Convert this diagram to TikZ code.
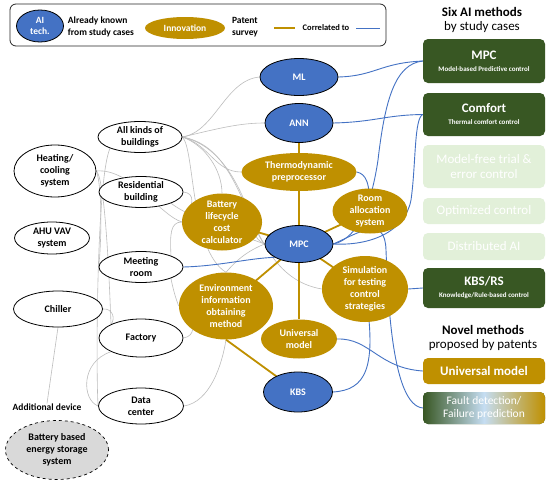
\documentclass[tikz,border=0pt]{standalone}
\usepackage{fontspec}
\setmainfont{Carlito}
\usetikzlibrary{shapes.geometric,backgrounds}
\definecolor{aiblue}{HTML}{4472C4}
\definecolor{gold}{HTML}{BF9000}
\definecolor{dkgreen}{HTML}{385723}
\definecolor{ltgreen}{HTML}{E2F0D9}
\definecolor{ltblue}{HTML}{C5DDF2}
\definecolor{lgray}{HTML}{BDBDBD}
\definecolor{batgray}{HTML}{D9D9D9}
\newcommand\fsz[2]{\fontsize{#1}{#2}\selectfont}
\begin{document}
\begin{tikzpicture}[x=1pt,y=-1pt,
  leftell/.style={ellipse, draw=black, line width=0.8pt, fill=white, inner xsep=0pt, inner ysep=-6pt, align=center, font=\bfseries\fsz{10}{12}},
  aiell/.style={ellipse, draw=black, line width=0.8pt, fill=aiblue, text=white, inner xsep=0pt, inner ysep=-6pt, align=center, font=\bfseries\fsz{10}{12}},
  inell/.style={ellipse, fill=gold, text=white, inner xsep=0pt, inner ysep=-6pt, align=center, font=\bfseries\fsz{10}{12}},
  gbox/.style={rounded corners=5pt, fill=dkgreen, text=white, minimum width=122pt, inner sep=0pt, align=center},
  lbox/.style={rounded corners=5pt, fill=ltgreen, text=white, minimum width=122pt, inner sep=0pt, align=center, font=\fsz{13}{15}},
  txt/.style={inner sep=0pt, align=center},
  gline/.style={draw=lgray, line width=0.6pt},
  bline/.style={draw=aiblue, line width=0.9pt},
  oline/.style={draw=gold, line width=1.8pt}]
\useasboundingbox (0,0) rectangle (550,485);

% ---------- legend ----------
\node[draw=black!85, line width=0.8pt, rounded corners=6pt, minimum width=376pt, minimum height=42pt, inner sep=0pt] (legend) at (198,25) {};
\node[aiell, minimum width=47pt, minimum height=32pt, font=\bfseries\fsz{9.5}{11.5}] (legai) at (40,26) {AI\\tech.};
\node[txt, align=left, font=\bfseries\fsz{9.5}{12}] (legk) at (101,27) {Already known\\from study cases};
\node[inell, minimum width=80pt, minimum height=22pt, font=\bfseries\fsz{9.5}{11}] (legin) at (185,28) {Innovation};
\node[txt, align=left, font=\bfseries\fsz{9.5}{12}] (legp) at (245,27) {Patent\\survey};
\coordinate (lo1) at (274,28); \coordinate (lo2) at (295,28);
\node[txt, font=\bfseries\fsz{8.5}{10}] (legc) at (326,28) {Correlated to};
\coordinate (lb1) at (356,28); \coordinate (lb2) at (380,28);

% ---------- left column ----------
\node[leftell, minimum width=84pt, minimum height=31pt] (allk) at (140,137) {All kinds of\\buildings};
\node[leftell, minimum width=82pt, minimum height=52pt] (heat) at (55,171) {Heating/\\cooling\\system};
\node[leftell, minimum width=84pt, minimum height=31pt] (resi) at (141,192) {Residential\\building};
\node[leftell, minimum width=75pt, minimum height=32pt] (ahu) at (52,238) {AHU VAV\\system};
\node[leftell, minimum width=84pt, minimum height=31pt] (meet) at (141,267) {Meeting\\room};
\node[leftell, minimum width=89pt, minimum height=36pt] (chil) at (58,309) {Chiller};
\node[leftell, minimum width=84pt, minimum height=38pt] (fact) at (141,338) {Factory};
\node[leftell, minimum width=85pt, minimum height=36pt] (datc) at (141,406) {Data\\center};
\node[txt, font=\bfseries\fsz{9.5}{11}] (addl) at (47,407) {Additional device};
\node[leftell, dashed, line width=0.7pt, fill=batgray, minimum width=103pt, minimum height=59pt] (bess) at (57,450) {Battery based\\energy storage\\system};

% ---------- middle ----------
\node[aiell, minimum width=78pt, minimum height=37pt] (ml) at (299,77) {ML};
\node[aiell, minimum width=68pt, minimum height=39pt] (ann) at (299,123) {ANN};
\node[inell, minimum width=115pt, minimum height=38pt] (thermo) at (299,172) {Thermodynamic\\preprocessor};
\node[inell, minimum width=75pt, minimum height=45pt] (room) at (370,211) {Room\\allocation\\system};
\node[inell, minimum width=80pt, minimum height=57pt] (batt) at (222,222) {Battery\\lifecycle\\cost\\calculator};
\node[aiell, minimum width=68pt, minimum height=37pt] (mpc) at (299,244) {MPC};
\node[inell, minimum width=94pt, minimum height=67pt] (env) at (226,306) {Environment\\information\\obtaining\\method};
\node[inell, minimum width=86pt, minimum height=66pt] (sim) at (365,289) {Simulation\\for testing\\control\\strategies};
\node[inell, minimum width=76pt, minimum height=39pt] (uni) at (299,339) {Universal\\model};
\node[aiell, minimum width=69pt, minimum height=40pt] (kbs) at (298,392) {KBS};

% ---------- right column ----------
\node[txt, font=\bfseries\fsz{13}{15}] (h1) at (482,12) {Six AI methods};
\node[txt, font=\fsz{13}{15}] (h2) at (482,27) {by study cases};
\node[gbox, minimum height=44pt] (mpcb) at (484,61) {\bfseries\fsz{13}{13}MPC\\\bfseries\fsz{7}{12.5}Model-based Predictive control};
\node[gbox, minimum height=43pt] (comfb) at (484,114.5) {\bfseries\fsz{13}{13}Comfort\\\bfseries\fsz{7}{12.5}Thermal comfort control};
\node[lbox, minimum height=43pt] (mfb) at (484,166.5) {Model-free trial \&\\error control};
\node[lbox, minimum height=26pt] (optb) at (484,211) {Optimized control};
\node[lbox, minimum height=27pt] (distb) at (484,246.5) {Distributed AI};
\node[gbox, minimum height=40pt] (kbsb) at (484,288) {\bfseries\fsz{13}{13}KBS/RS\\\bfseries\fsz{7}{12}Knowledge/Rule-based control};
\node[txt, font=\bfseries\fsz{13}{15}] (h3) at (483,330) {Novel methods};
\node[txt, font=\fsz{13}{15}] (h4) at (483,345) {proposed by patents};
\node[gbox, fill=gold, minimum height=26pt, font=\bfseries\fsz{13}{15}] (unib) at (484,371) {Universal model};
\node[gbox, left color=dkgreen, right color=gold, middle color=ltblue, minimum height=32pt, font=\fsz{11.5}{13}] (faultb) at (484,408) {Fault detection/\\Failure prediction};

% ---------- connectors ----------
\begin{scope}[on background layer]
\fill[white] (0,0) rectangle (550,485);
% gray
\draw[gline] (allk.east) .. controls (215,132) and (225,80) .. (ml.west);
\draw[gline] (allk.east) .. controls (220,128) and (240,123) .. (ann.west);
\draw[gline] (allk.east) .. controls (210,145) and (215,172) .. (thermo.west);
\draw[gline] (allk.east) .. controls (205,145) and (222,170) .. (batt.north);
\draw[gline] (allk.east) .. controls (195,150) and (190,250) .. (env.north);
\draw[gline] (allk.east) .. controls (240,150) and (250,230) .. (mpc.west);
\draw[gline] (allk.east) .. controls (255,150) and (240,275) .. (sim.west);
\draw[gline] (allk.south west) .. controls (96,180) and (96,380) .. (datc.west);
\draw[gline] (heat.east) .. controls (130,168) and (160,215) .. (batt.west);
\draw[gline] (heat.east) .. controls (106,180) and (110,300) .. (fact.north west);
\draw[gline] (heat.east) .. controls (103,190) and (101,250) .. (meet.west);
\draw[gline] (resi.east) .. controls (195,193) and (195,205) .. (batt.west);
\draw[gline] (resi.south east) .. controls (190,218) and (240,235) .. (mpc.west);
\draw[gline] (batt.east) .. controls (250,236) and (258,240) .. (mpc.west);
\draw[gline] (meet.north east) .. controls (170,235) and (170,222) .. (batt.west);
\draw[gline] (meet.south east) .. controls (172,285) and (176,300) .. (env.west);
\draw[gline] (mpc.west) .. controls (245,252) and (235,262) .. (env.north);
\draw[gline] (chil.east) .. controls (112,308) and (116,318) .. (fact.north west);
\draw[gline] (fact.south west) .. controls (80,362) and (82,400) .. (datc.west);
\draw[gline] (chil.south) -- (addl.north);
\draw[gline] (fact.east) .. controls (190,337) and (192,333) .. (env.south west);
\draw[gline] (datc.east) .. controls (210,402) and (222,365) .. (env.south);
% blue
\draw[bline] (lb1) -- (lb2);
\draw[bline] (ml.east) .. controls (375,76) and (380,63) .. (mpcb.west);
\draw[bline] (ann.east) .. controls (375,122) and (385,115) .. (comfb.west);
\draw[bline] (mpc.east) .. controls (360,238) and (372,200) .. (378,160) .. controls (385,100) and (395,64) .. (mpcb.west);
\draw[bline] (mpc.east) .. controls (370,246) and (405,232) .. (411,200) .. controls (416,165) and (414,118) .. (comfb.west);
\draw[bline] (mpc.east) .. controls (360,232) and (385,215) .. (386,250) .. controls (388,300) and (392,405) .. (faultb.west);
\draw[bline] (thermo.east) .. controls (366,174) and (370,182) .. (room.center);
\draw[bline] (meet.east) .. controls (220,266) and (250,258) .. (mpc.south west);
\draw[bline] (sim.east) -- (kbsb.west);
\draw[bline] (uni.east) .. controls (370,338) and (378,368) .. (unib.west);
\draw[bline] (kbs.east) .. controls (365,390) and (378,370) .. (sim.center);
% orange
\draw[oline] (lo1) -- (lo2);
\draw[oline] (ann.south) -- (thermo.north);
\draw[oline] (thermo.south) -- (mpc.north);
\draw[oline] (batt.center) -- (mpc.center);
\draw[oline] (room.center) -- (mpc.center);
\draw[oline] (sim.center) -- (mpc.center);
\draw[oline] (env.center) -- (mpc.center);
\draw[oline] (mpc.south) -- (uni.north);
\draw[oline] (env.south) -- (kbs.center);
\end{scope}
\end{tikzpicture}
\end{document}
